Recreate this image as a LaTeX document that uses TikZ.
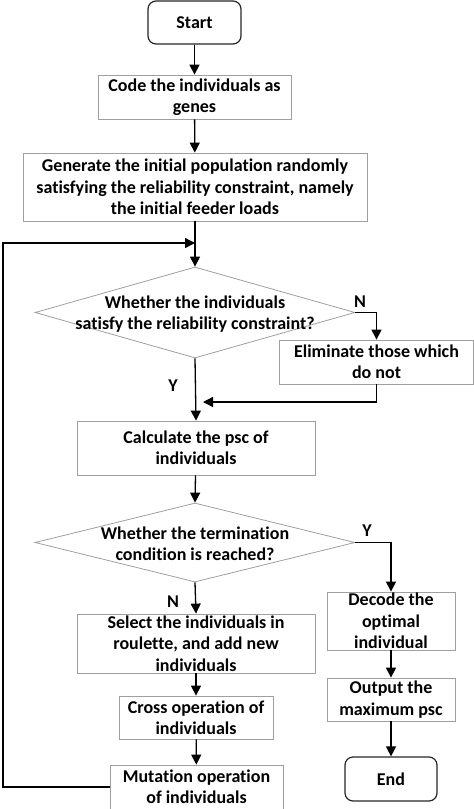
\documentclass[tikz,border=0pt]{standalone}
\usepackage{fontspec}
\setmainfont[Ligatures=NoCommon]{Carlito}
\usetikzlibrary{shapes.geometric,arrows.meta}
\begin{document}
\begin{tikzpicture}[x=1pt,y=-1pt,
  font=\fontsize{18}{21.3}\selectfont\bfseries,
  box/.style={draw=gray!75,line width=0.8pt,inner sep=0pt,align=center},
  term/.style={draw=black!85,line width=1.2pt,rounded corners=8pt,inner sep=0pt,align=center},
  dia/.style={draw=gray!75,line width=0.8pt,diamond,inner sep=0pt,aspect=3.5},
  arr/.style={line width=1.3pt,-{Triangle[length=10pt,width=10pt]}},
  ln/.style={line width=1.3pt}]
\useasboundingbox (0,0) rectangle (474,809);
\node[term,minimum width=93pt,minimum height=43pt] (start) at (194.5,22.5) {Start};
\node[box,minimum width=193pt,minimum height=44pt] (code) at (194.5,97) {Code the individuals as\\genes};
\node[box,minimum width=344pt,minimum height=68pt] (gen) at (195,187) {Generate the initial population randomly\\satisfying the reliability constraint, namely\\the initial feeder loads};
\node[dia,minimum width=320pt,minimum height=91pt] (d1) at (195,312.5) {};
\node[align=center,inner sep=0pt] (d1t) at (195,314) {Whether the individuals\\satisfy the reliability constraint?};
\node[box,minimum width=194pt,minimum height=44pt] (elim) at (376.5,362) {Eliminate those which\\do not};
\node[box,minimum width=238pt,minimum height=54pt] (calc) at (196,448) {Calculate the psc of\\individuals};
\node[dia,minimum width=320pt,minimum height=79pt] (d2) at (195,542.5) {};
\node[align=center,inner sep=0pt] (d2t) at (195,543.5) {Whether the termination\\condition is reached?};
\node[box,minimum width=128pt,minimum height=58pt] (dec) at (391,621) {Decode the\\optimal\\individual};
\node[box,minimum width=238pt,minimum height=59pt] (sel) at (196,643.5) {Select the individuals in\\roulette, and add new\\individuals};
\node[box,minimum width=154pt,minimum height=43pt] (cross) at (196,717.5) {Cross operation of\\individuals};
\node[box,minimum width=173pt,minimum height=44pt] (mut) at (196.5,787) {Mutation operation\\of individuals};
\node[box,minimum width=128pt,minimum height=43pt] (out) at (391,699.5) {Output the\\maximum psc};
\node[term,minimum width=92pt,minimum height=44pt] (end) at (391,779) {End};
\node (n1) at (360,302) {N};
\node (y1) at (173,386) {Y};
\node (y2) at (367,531) {Y};
\node (n2) at (173,602) {N};
\coordinate (lc) at (3,243);
\coordinate (li) at (195,243);
\coordinate (ei) at (203,402);
\draw[arr] (start) -- (code);
\draw[arr] (code) -- (gen);
\draw[arr] (gen) -- (d1.north);
\draw[arr] (d1.east) -| (elim.north);
\draw[arr] (elim.south) |- (ei);
\draw[arr] (d1.south) -- (calc.north);
\draw[arr] (calc) -- (d2.north);
\draw[arr] (d2.east) -| (dec.north);
\draw[arr] (d2.south) -- (sel.north);
\draw[arr] (sel) -- (cross);
\draw[arr] (cross) -- (mut);
\draw[arr] (dec) -- (out);
\draw[arr] (out) -- (end);
\draw[arr] (mut.west) -| (lc) -- (li);
\end{tikzpicture}
\end{document}
